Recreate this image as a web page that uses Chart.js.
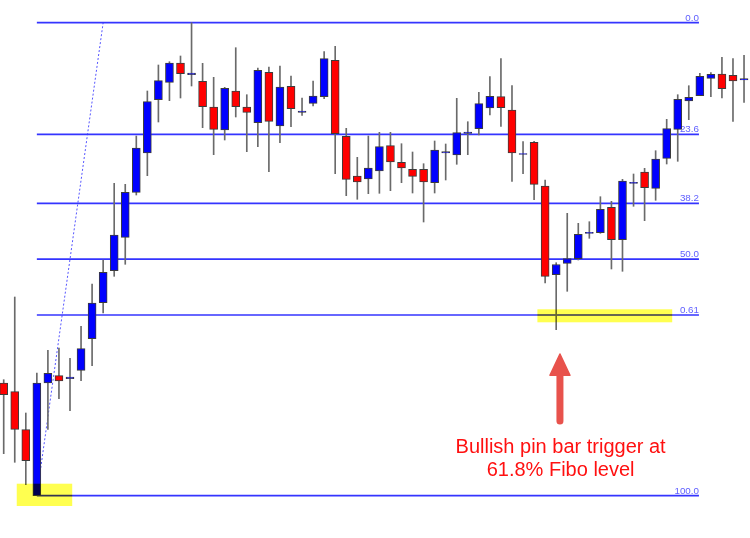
<!DOCTYPE html>
<html>
<head>
<meta charset="utf-8">
<script src="https://cdn.jsdelivr.net/npm/chart.js@4"></script>
<style>
  html, body { margin: 0; padding: 0; background: #fff; }
  #chartDiv { width: 750px; height: 538px; }
</style>
</head>
<body>
<div id="chartDiv"><canvas id="myChart" width="750" height="538"></canvas></div>
<script>
// candle data, one entry per bar (oldest first)
let opens = [1.21127, 1.21040, 1.20660, 1.20000, 1.21127, 1.21200, 1.21170, 1.21254, 1.21570, 1.21930,
  1.22250, 1.22584, 1.23034, 1.23427, 1.23960, 1.24134, 1.24327, 1.24210, 1.24144, 1.23887,
  1.23657, 1.24047, 1.23887, 1.23730, 1.24234, 1.23697, 1.24094, 1.23832, 1.23924, 1.23990,
  1.24354, 1.23594, 1.23197, 1.23167, 1.23247, 1.23500, 1.23334, 1.23264, 1.23264, 1.23130,
  1.23427, 1.23407, 1.23622, 1.23670, 1.23877, 1.23990, 1.23857, 1.23414, 1.23534, 1.23097,
  1.22210, 1.22324, 1.22370, 1.22622, 1.22630, 1.22884, 1.22560, 1.23122, 1.23237, 1.23074,
  1.23374, 1.23664, 1.23947, 1.24000, 1.24174, 1.24217, 1.24204, 1.24157];
let highs = [1.21160, 1.21987, 1.20827, 1.21227, 1.21454, 1.21477, 1.21374, 1.21694, 1.22117, 1.22357,
  1.23124, 1.23114, 1.23597, 1.24047, 1.24307, 1.24340, 1.24397, 1.24730, 1.24324, 1.24184,
  1.24084, 1.24480, 1.24010, 1.24277, 1.24287, 1.24297, 1.24197, 1.23977, 1.24147, 1.24440,
  1.24494, 1.23674, 1.23384, 1.23597, 1.23634, 1.23634, 1.23520, 1.23437, 1.23320, 1.23547,
  1.23517, 1.23974, 1.23740, 1.24034, 1.24190, 1.24370, 1.24100, 1.23540, 1.23544, 1.23157,
  1.22330, 1.22824, 1.22724, 1.22740, 1.22990, 1.22944, 1.23164, 1.23217, 1.23274, 1.23450,
  1.23764, 1.24010, 1.24100, 1.24224, 1.24230, 1.24384, 1.24370, 1.24404];
let lows = [1.20420, 1.20334, 1.20110, 1.20000, 1.20664, 1.20970, 1.20850, 1.21150, 1.21300, 1.21827,
  1.22194, 1.22314, 1.23007, 1.23200, 1.23737, 1.23950, 1.23977, 1.24097, 1.23680, 1.23410,
  1.23557, 1.23787, 1.23440, 1.23490, 1.23240, 1.23530, 1.23690, 1.23804, 1.23897, 1.23970,
  1.23220, 1.23000, 1.22964, 1.23020, 1.23024, 1.23050, 1.23130, 1.23027, 1.22737, 1.23027,
  1.23157, 1.23314, 1.23410, 1.23607, 1.23807, 1.23694, 1.23144, 1.23220, 1.22960, 1.22127,
  1.21660, 1.22044, 1.22357, 1.22574, 1.22624, 1.22267, 1.22244, 1.22894, 1.22750, 1.22954,
  1.23317, 1.23344, 1.23760, 1.24000, 1.23990, 1.23977, 1.23744, 1.23934];
let closes = [1.21010, 1.20664, 1.20350, 1.21127, 1.21224, 1.21147, 1.21187, 1.21470, 1.21927, 1.22234,
  1.22607, 1.23034, 1.23477, 1.23940, 1.24150, 1.24327, 1.24220, 1.24227, 1.23890, 1.23664,
  1.24074, 1.23890, 1.23834, 1.24254, 1.23744, 1.24087, 1.23870, 1.23847, 1.23997, 1.24370,
  1.23620, 1.23164, 1.23137, 1.23277, 1.23490, 1.23337, 1.23277, 1.23194, 1.23137, 1.23457,
  1.23442, 1.23630, 1.23637, 1.23920, 1.23994, 1.23880, 1.23427, 1.23422, 1.23114, 1.22194,
  1.22312, 1.22370, 1.22614, 1.22634, 1.22864, 1.22560, 1.23147, 1.23134, 1.23080, 1.23367,
  1.23670, 1.23964, 1.23984, 1.24194, 1.24214, 1.24070, 1.24147, 1.24171];

// fibonacci tool: anchored from the swing low bar to the swing high bar
let fibLowBar = 3;
let fibHighBar = 17;
let fibEndBar = 62.92;
let fibRatios = [0, 0.236, 0.382, 0.5, 0.618, 1];
let fibLabels = ["0.0", "23.6", "38.2", "50.0", "0.61", "100.0"];
let trendLineBars = [3, 9];

// highlighted zones [bar from, bar to, price low, price high]
let zoneSwingLow = [1.18, 6.2, 1.19897, 1.20120];
let zonePinBar = [48.3, 60.5, 1.21734, 1.21864];

// annotation
let arrowBar = 50.34;
let arrowPrices = [1.20727, 1.21204, 1.21417]; // tail, head base, tip
let noteLines = ["Bullish pin bar trigger at", "61.8% Fibo level"];
let notePrices = [1.20427, 1.20194];
let noteBar = 50.4;

let swingLow = lows[fibLowBar];
let swingHigh = highs[fibHighBar];
let fibPrices = fibRatios.map((r) => swingHigh - r * (swingHigh - swingLow));

let bodies = [];
let wicks = [];
let bodyColors = [];
opens.forEach((o, i) => {
  bodies.push({ x: i, y: [o, closes[i]] });
  wicks.push({ x: i, y: [lows[i], highs[i]] });
  bodyColors.push(closes[i] >= o ? "#0000ff" : "#ff0000");
});

let fibDatasets = fibPrices.map((p) => ({
  type: "line",
  data: [{ x: fibLowBar, y: p }, { x: fibEndBar, y: p }],
  borderColor: "#3434ff",
  borderWidth: 1.7,
  pointRadius: 0,
  order: 3,
}));

const fibLabelPlugin = {
  id: "fibLabels",
  beforeDatasetsDraw(chart) {
    const { ctx, scales } = chart;
    ctx.save();
    ctx.font = "9.8px 'Liberation Sans'";
    ctx.fillStyle = "#5f5fff";
    ctx.textAlign = "right";
    ctx.textBaseline = "alphabetic";
    fibPrices.forEach((p, i) => {
      ctx.fillText(fibLabels[i], scales.x.getPixelForValue(fibEndBar), scales.y.getPixelForValue(p) - 2);
    });
    ctx.restore();
  },
};

const zonePlugin = {
  id: "zones",
  afterDatasetsDraw(chart) {
    const { ctx, scales } = chart;
    ctx.save();
    ctx.globalCompositeOperation = "multiply";
    ctx.fillStyle = "rgb(255,255,80)";
    [zoneSwingLow, zonePinBar].forEach((z) => {
      const x1 = scales.x.getPixelForValue(z[0]);
      const x2 = scales.x.getPixelForValue(z[1]);
      const y1 = scales.y.getPixelForValue(z[3]);
      const y2 = scales.y.getPixelForValue(z[2]);
      ctx.fillRect(x1, y1, x2 - x1, y2 - y1);
    });
    ctx.restore();
  },
};

const notePlugin = {
  id: "note",
  afterDraw(chart) {
    const { ctx, scales } = chart;
    const x = scales.x.getPixelForValue(arrowBar);
    const yTail = scales.y.getPixelForValue(arrowPrices[0]);
    const yBase = scales.y.getPixelForValue(arrowPrices[1]);
    const yTip = scales.y.getPixelForValue(arrowPrices[2]);
    ctx.save();
    ctx.fillStyle = "#e8524c";
    ctx.strokeStyle = "#e8524c";
    ctx.lineWidth = 7;
    ctx.lineCap = "round";
    ctx.beginPath();
    ctx.moveTo(x, yTail - 2);
    ctx.lineTo(x, yBase);
    ctx.stroke();
    ctx.lineJoin = "round";
    ctx.lineWidth = 1.5;
    ctx.beginPath();
    ctx.moveTo(x, yTip);
    ctx.lineTo(x + 10, yBase);
    ctx.lineTo(x - 10, yBase);
    ctx.closePath();
    ctx.fill();
    ctx.stroke();

    ctx.fillStyle = "#ff1010";
    ctx.font = "20px 'Liberation Sans'";
    ctx.textAlign = "center";
    ctx.textBaseline = "alphabetic";
    const xt = scales.x.getPixelForValue(noteBar);
    noteLines.forEach((t, i) => {
      ctx.fillText(t, xt, scales.y.getPixelForValue(notePrices[i]));
    });
    ctx.restore();
  },
};

const config = {
  type: "bar",
  data: {
    datasets: [
      {
        label: "body",
        data: bodies,
        backgroundColor: bodyColors,
        borderColor: "#3c3c3c",
        borderWidth: 1,
        borderSkipped: false,
        barThickness: 8,
        grouped: false,
        order: 1,
      },
      {
        label: "wick",
        data: wicks,
        backgroundColor: "#6a6a6a",
        borderWidth: 0,
        barThickness: 1,
        grouped: false,
        order: 2,
      },
      ...fibDatasets,
      {
        type: "line",
        label: "trend",
        data: [
          { x: trendLineBars[0], y: swingLow },
          { x: trendLineBars[1], y: swingHigh },
        ],
        borderColor: "#5555ff",
        borderWidth: 1,
        borderDash: [2, 2],
        pointRadius: 0,
        order: 3,
      },
    ],
  },
  options: {
    responsive: false,
    animation: false,
    layout: { padding: 0 },
    plugins: { legend: { display: false }, tooltip: { enabled: false } },
    scales: {
      x: { type: "linear", display: false, offset: false, min: -0.335, max: 67.54 },
      y: { type: "linear", display: false, min: 1.19577, max: 1.24957 },
    },
  },
  plugins: [fibLabelPlugin, zonePlugin, notePlugin],
};

const myChart = new Chart(document.getElementById("myChart"), config);
</script>
</body>
</html>
